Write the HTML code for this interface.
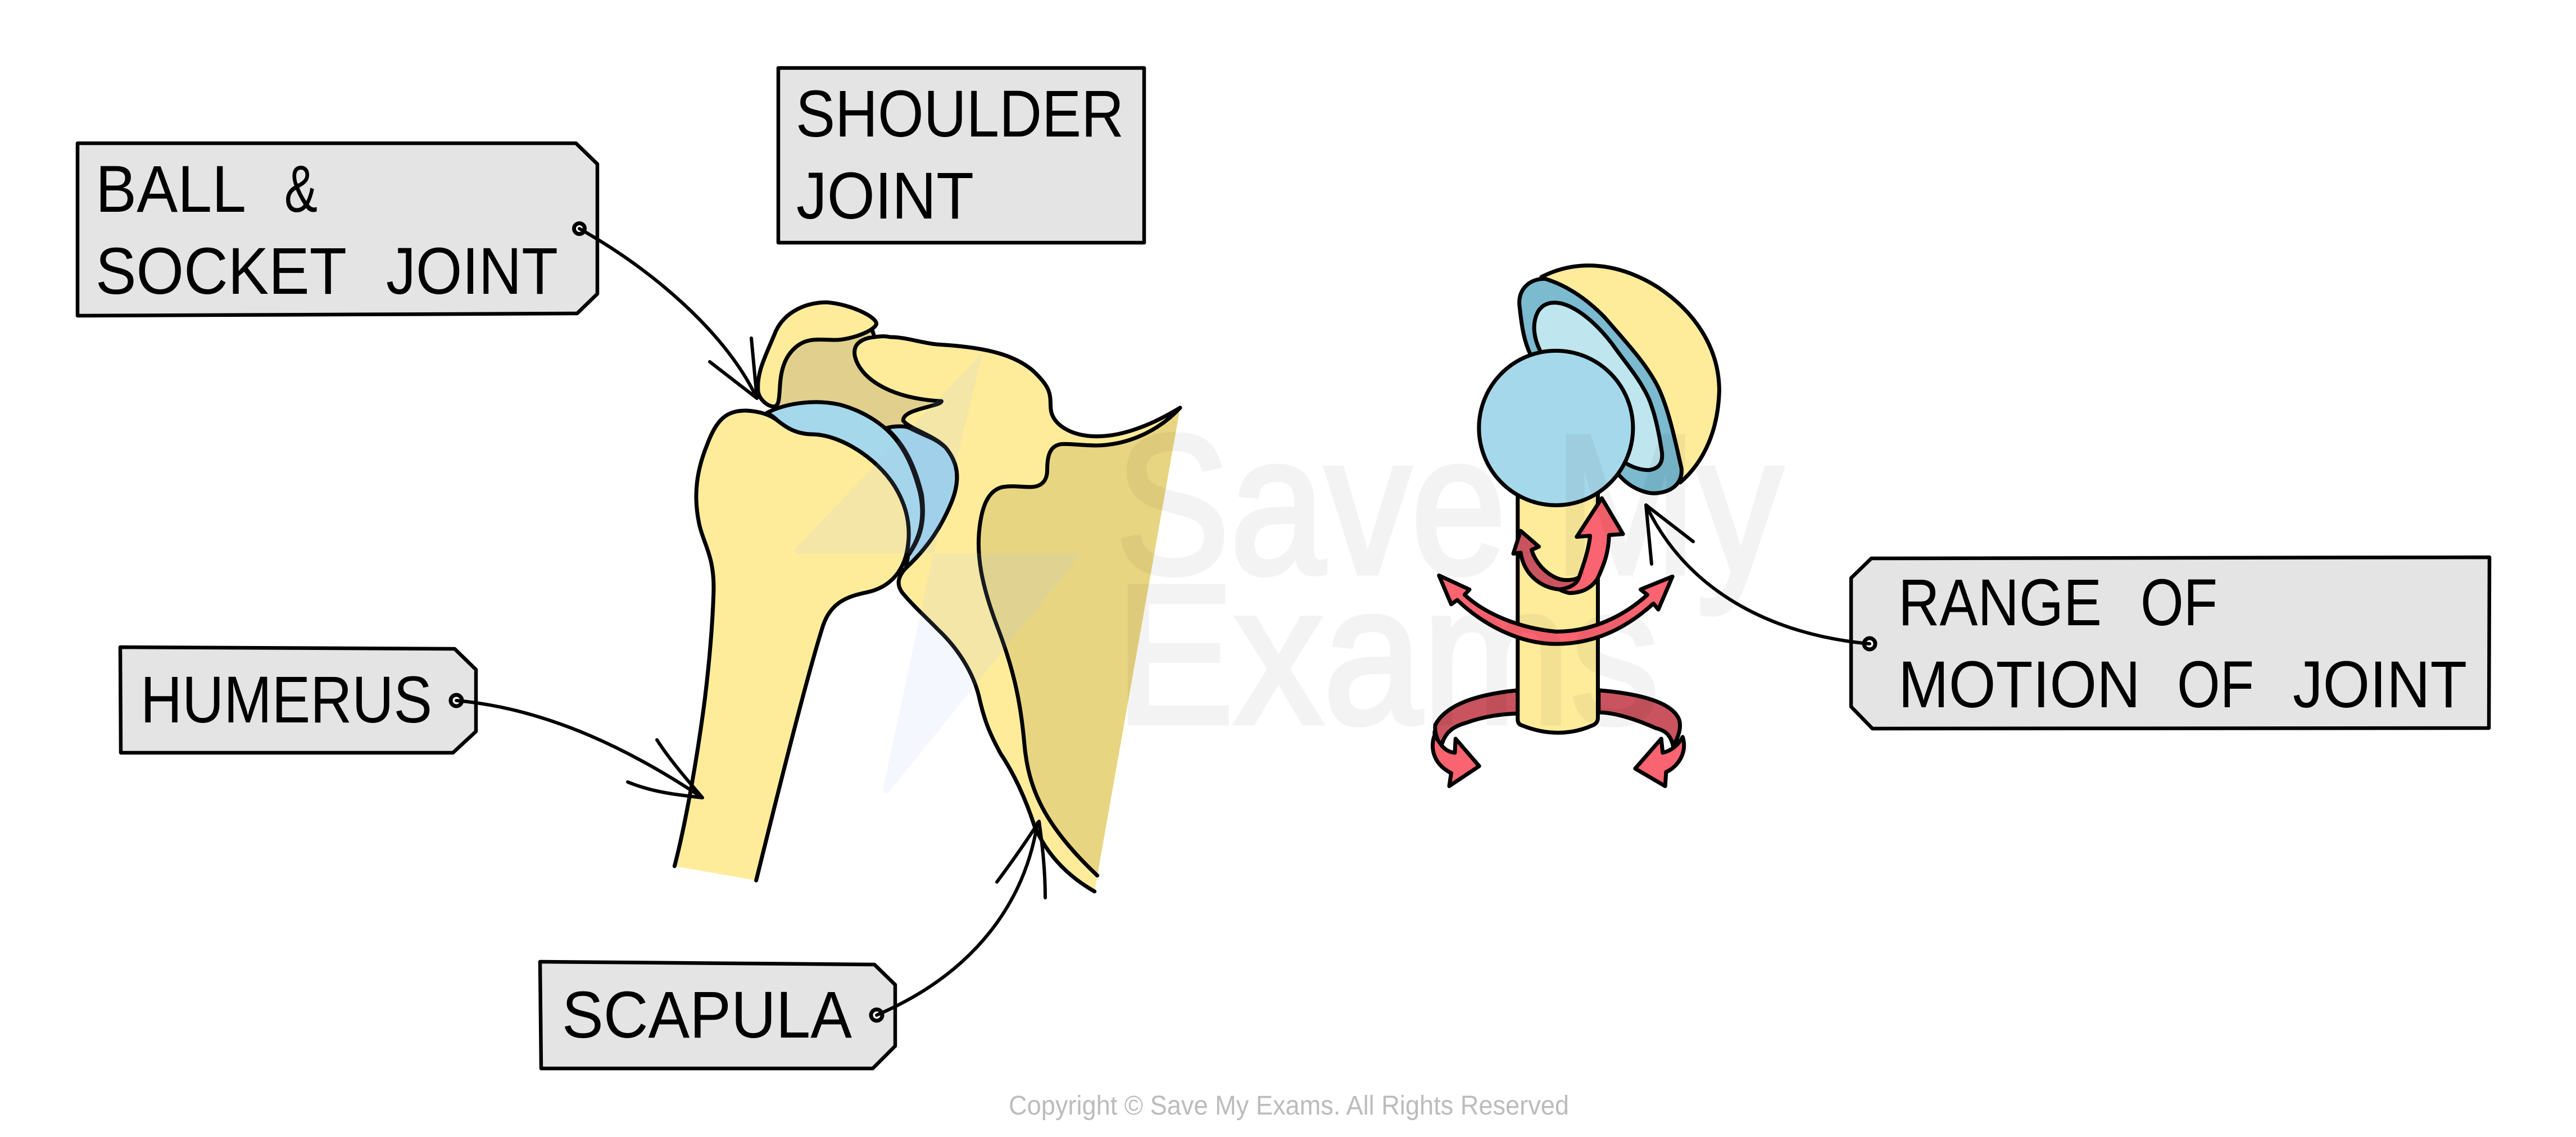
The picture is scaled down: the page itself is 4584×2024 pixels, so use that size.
<!DOCTYPE html>
<html><head><meta charset="utf-8"><style>
html,body{margin:0;padding:0;background:#fff}
svg{display:block}
.l{font-family:"Liberation Sans",sans-serif;font-size:118px;fill:#000}
.n{vector-effect:non-scaling-stroke;stroke:#000;stroke-width:7;stroke-linecap:round;stroke-linejoin:round}
.b{fill:#e4e4e4;stroke:#000;stroke-width:6.5;stroke-linejoin:round}
.h{fill:#fff;stroke:#000;stroke-width:7}
.a{fill:none;stroke:#000;stroke-width:6;stroke-linecap:round;stroke-linejoin:round}
.w{font-family:"Liberation Sans",sans-serif;font-size:353px;fill:#000;stroke:#000;stroke-width:9;opacity:.045}
</style></head><body>
<svg xmlns="http://www.w3.org/2000/svg" width="4584" height="2024" viewBox="0 0 4584 2024">
<rect width="4584" height="2024" fill="#fff"/>

<!-- Left figure -->
<g transform="translate(1100,480) scale(0.70175,0.72727)">
<!-- tan -->
<path d="M405 335L412 250C420 210 470 168 510 170L650 150L600 200C610 260 680 315 820 322C790 340 720 345 725 370L740 390L680 385L560 340L480 322Z" fill="#E1D08D"/>
<!-- scapula fill -->
<path d="M600 210C595 180 640 168 690 165C730 165 770 180 810 183C900 188 1010 200 1065 260C1100 295 1095 310 1097 340C1100 380 1150 408 1215 408C1290 408 1370 370 1425 338L1208 1522C1150 1490 1090 1440 1055 1360C1035 1300 1005 1235 970 1185C945 1140 930 1110 915 1045C900 985 860 925 810 880C780 850 750 825 720 790C705 770 710 750 730 730C775 690 815 640 845 570C870 510 860 470 830 435C800 405 740 390 723 370C720 340 820 335 820 322C680 315 610 260 600 210Z" fill="#FEEC9B"/>
<!-- shade -->
<path d="M1425 338C1380 385 1310 425 1225 430C1180 432 1150 425 1125 427C1095 430 1088 455 1088 490C1088 520 1070 532 1045 532C1020 532 1000 528 975 532C940 540 925 575 918 620C905 700 925 780 960 870C1000 970 1020 1050 1030 1160C1040 1270 1080 1360 1215 1483Z" fill="#E8D582"/>
<!-- socket -->
<path d="M680 388C700 382 730 382 740 388C780 408 800 410 830 435C860 470 870 510 845 570C815 640 775 690 730 730L735 700C765 660 780 620 770 550C755 490 730 430 680 388Z" fill="#9FD3EA" class="n"/>
<!-- scapula outline -->
<path d="M645 150L650 165M650 165C670 162 680 163 690 165C730 165 770 180 810 183C900 188 1010 200 1065 260C1100 295 1095 310 1097 340C1100 380 1150 408 1215 408C1290 408 1370 370 1425 338C1380 385 1310 425 1225 430C1180 432 1150 425 1125 427C1095 430 1088 455 1088 490C1088 520 1070 532 1045 532C1020 532 1000 528 975 532C940 540 925 575 918 620C905 700 925 780 960 870C1000 970 1020 1050 1030 1160C1040 1270 1080 1360 1215 1483" fill="none" class="n"/>
<path d="M650 165C620 168 595 180 600 210C610 260 680 315 820 322C820 335 720 340 723 370C740 390 800 405 830 435C860 470 870 510 845 570C815 640 775 690 730 730C710 750 705 770 720 790C750 825 780 850 810 880C860 925 900 985 915 1045C930 1110 945 1140 970 1185C1005 1235 1035 1300 1055 1360C1090 1440 1150 1490 1208 1522" fill="none" class="n"/>
<!-- lobe -->
<path d="M355 300C350 250 375 210 400 150C425 100 480 80 530 80C590 85 655 115 655 133C650 150 590 172 550 172C510 172 480 165 450 190C420 215 412 250 410 290C408 315 408 335 395 335C380 335 360 320 355 300Z" fill="#FEEC9B" class="n"/>
<!-- humerus -->
<path d="M143 1460C170 1360 200 1200 220 1050C235 930 240 850 242 790C245 700 215 670 205 620C190 550 200 490 225 430C250 365 275 345 325 345C360 347 385 355 405 370C425 385 450 403 495 403C570 405 670 470 710 545C735 590 745 640 730 700C715 750 680 780 630 790C580 800 540 815 520 870C480 990 400 1300 350 1495Z" fill="#FEEC9B"/>
<path d="M143 1460C170 1360 200 1200 220 1050C235 930 240 850 242 790C245 700 215 670 205 620C190 550 200 490 225 430C250 365 275 345 325 345C360 347 385 355 405 370C425 385 450 403 495 403C570 405 670 470 710 545C735 590 745 640 730 700C715 750 680 780 630 790C580 800 540 815 520 870C480 990 400 1300 350 1495" fill="none" class="n"/>
<!-- cartilage -->
<path d="M378 350C430 325 500 318 560 330C620 345 665 375 690 400C730 440 750 490 765 545C780 610 765 660 730 705C745 640 735 590 710 545C670 470 570 405 495 403C450 403 425 385 405 370C395 360 385 355 378 350Z" fill="#A5D8EB" class="n"/>
</g>

<!-- Right figure -->
<g transform="translate(2500,440) scale(0.43365,0.625)">
<path d="M560 85C700 35 870 40 1040 115C1180 180 1290 280 1290 410C1285 520 1230 610 1130 670L1000 600L700 300L600 120Z" fill="#FEEC9B" class="n"/>
<path d="M575 90C510 90 465 120 470 165C480 230 490 270 515 305L880 650C930 690 1000 705 1040 700C1100 695 1140 670 1135 630C1115 570 1085 465 1040 400C990 330 900 265 820 200C750 150 670 110 575 90Z" fill="#7BBACF" class="n"/>
<path d="M555 295C530 260 520 220 545 185C570 155 620 150 680 170C740 190 800 230 850 275C900 325 960 370 1000 430C1030 480 1045 540 1055 585C1060 620 1035 632 1000 635C965 635 930 625 905 615Z" fill="#BFE5EE" class="n"/>
<!-- bottom bands -->
<path d="M463 1262C350 1270 180 1290 125 1360C120 1380 135 1410 150 1420C165 1380 200 1365 250 1355C330 1335 400 1330 463 1328Z" fill="#C9545F" class="n"/>
<path d="M795 1262C900 1268 1090 1285 1125 1345C1135 1365 1125 1395 1100 1420C1090 1385 1060 1375 1030 1370C950 1345 860 1325 795 1325Z" fill="#C9545F" class="n"/>
<path d="M122 1390C105 1420 110 1470 190 1498L182 1535L305 1478L208 1400L205 1440C175 1438 155 1425 147 1415C135 1405 125 1395 122 1380Z" fill="#FA6470" class="n"/>
<path d="M1140 1395C1160 1440 1120 1480 1072 1495L1068 1535L945 1485L1052 1400L1058 1440C1090 1435 1120 1420 1140 1395Z" fill="#FA6470" class="n"/>
<!-- shaft -->
<path d="M463 700L463 1345C463 1355 470 1360 480 1362C580 1390 680 1390 770 1362C785 1358 792 1350 792 1340L792 700Z" fill="#FEEC9B" class="n"/>
<!-- ball -->
<ellipse cx="620" cy="515" rx="316" ry="220" fill="#A5D8EB" class="n"/>
<!-- up arrows -->
<path d="M475 808L550 853L520 862C540 910 610 950 665 948C690 948 705 945 715 940C700 965 670 975 635 975C560 970 490 935 475 870L445 873Z" fill="#C9545F" class="n"/>
<path d="M808 715L895 817L838 820C835 870 820 900 790 945C760 975 720 985 675 985C660 983 640 978 635 975C680 970 705 960 715 940C735 900 755 860 760 822L705 825Z" fill="#FA6470" class="n"/>
<!-- double arrow -->
<path d="M140 935L265 975L245 990C330 1045 470 1085 620 1095C770 1095 900 1050 995 990L967 975L1098 938L1040 1032L1020 1015C900 1090 770 1130 620 1130C470 1130 320 1075 215 1005L190 1017Z" fill="#FA6470" class="n"/>
</g>

<!-- Watermark logo polygons -->
<g fill="#AAC3F0" fill-opacity=".13">
<path d="M1749 627L1417 975Q1410 985 1420 985L1661 985Z"/>
<path d="M1918 985L1661 985L1571 1405Q1572 1415 1582 1410L1920 990Z"/>
</g>

<!-- Boxes -->
<path class="b" d="M138 255L1025 255L1063 292L1063 523L1027 558L138 562Z"/>
<rect class="b" x="1385" y="121" width="651" height="311"/>
<path class="b" d="M214 1152L809 1155L847 1192L847 1302L806 1340L215 1340Z"/>
<path class="b" d="M961 1712L1556 1717L1593 1753L1593 1862L1553 1902L963 1902Z"/>
<path class="b" d="M3294 1029L3330 994L4430 992L4429 1296L3332 1297L3294 1258Z"/>

<!-- Connectors -->
<circle class="h" cx="1031" cy="407" r="9.5"/>
<circle class="h" cx="812" cy="1247" r="10"/>
<circle class="h" cx="1560" cy="1807" r="10"/>
<circle class="h" cx="3327" cy="1146" r="10"/>
<path class="a" d="M1031 407C1160 480 1290 590 1347 709M1337 602L1347 709L1263 644"/>
<path class="a" d="M812 1247C980 1262 1130 1340 1250 1420M1169 1317C1190 1350 1220 1385 1250 1420C1205 1415 1160 1410 1117 1392"/>
<path class="a" d="M1560 1807C1740 1730 1825 1600 1846 1465M1774 1570C1800 1535 1825 1500 1849 1462C1855 1505 1860 1550 1860 1598"/>
<path class="a" d="M3327 1146C3150 1130 3000 1050 2929 899M3013 964L2929 899L2939 1004"/>

<!-- Labels -->
<text class="l" x="170" y="377" textLength="268" lengthAdjust="spacingAndGlyphs">BALL</text>
<text class="l" x="506" y="377" textLength="59" lengthAdjust="spacingAndGlyphs">&amp;</text>
<text class="l" x="170" y="523" textLength="447" lengthAdjust="spacingAndGlyphs">SOCKET</text>
<text class="l" x="687" y="523" textLength="306" lengthAdjust="spacingAndGlyphs">JOINT</text>
<text class="l" x="1416" y="243" textLength="584" lengthAdjust="spacingAndGlyphs">SHOULDER</text>
<text class="l" x="1417" y="389" textLength="316" lengthAdjust="spacingAndGlyphs">JOINT</text>
<text class="l" x="250" y="1286" textLength="519" lengthAdjust="spacingAndGlyphs">HUMERUS</text>
<text class="l" x="1000" y="1847" textLength="516" lengthAdjust="spacingAndGlyphs">SCAPULA</text>
<text class="l" x="3378" y="1113" textLength="362" lengthAdjust="spacingAndGlyphs">RANGE</text>
<text class="l" x="3809" y="1113" textLength="137" lengthAdjust="spacingAndGlyphs">OF</text>
<text class="l" x="3378" y="1259" textLength="431" lengthAdjust="spacingAndGlyphs">MOTION</text>
<text class="l" x="3874" y="1259" textLength="137" lengthAdjust="spacingAndGlyphs">OF</text>
<text class="l" x="4080" y="1259" textLength="310" lengthAdjust="spacingAndGlyphs">JOINT</text>

<!-- Watermark text -->
<text class="w" x="1985" y="1020" textLength="1187" lengthAdjust="spacingAndGlyphs">Save My</text>
<text class="w" x="1985" y="1287" textLength="968" lengthAdjust="spacingAndGlyphs">Exams</text>

<!-- Copyright -->
<text x="1795" y="1984" textLength="997" lengthAdjust="spacingAndGlyphs" font-family="Liberation Sans, sans-serif" font-size="48" fill="#bcbcbc">Copyright © Save My Exams. All Rights Reserved</text>
</svg>
</body></html>
